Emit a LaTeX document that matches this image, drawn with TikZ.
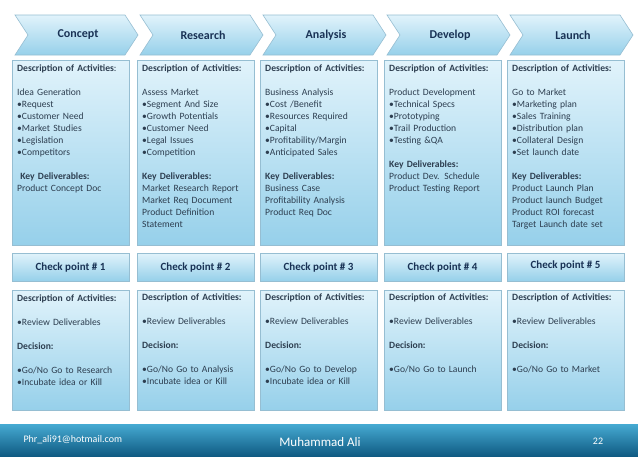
\documentclass[tikz,border=0pt]{standalone}
\usepackage{fontspec}
\setmainfont{Carlito}
\definecolor{txt}{RGB}{45,62,80}
\definecolor{hd}{RGB}{25,50,85}
\definecolor{ltop}{RGB}{225,243,251}
\definecolor{lbot}{RGB}{150,208,234}
\definecolor{edge}{RGB}{150,190,210}
\definecolor{ftop}{RGB}{70,170,210}
\definecolor{fbot}{RGB}{15,90,130}
\begin{document}
\begin{tikzpicture}[x=1pt,y=-1pt,
  panel/.style={draw=edge,line width=0.6pt,top color=ltop,bottom color=lbot},
  chev/.style={draw=edge,line width=0.6pt,top color=ltop,bottom color=lbot},
  body/.style={anchor=north west,align=left,text width=114pt,inner sep=0pt,font=\fontsize{9.6}{12}\selectfont,text=txt},
  ttl/.style={font=\fontsize{12}{14}\selectfont\bfseries,text=hd},
  cpt/.style={font=\fontsize{11}{13}\selectfont\bfseries,text=hd}]
\useasboundingbox (0,0) rectangle (638,456);
\fill[white] (0,0) rectangle (638,456);
\def\xs{{12,137,260,384,507}}
\foreach \i/\t in {0/Concept,1/Research,2/Analysis,3/Develop,4/Launch}{
  \pgfmathsetmacro{\x}{\xs[\i]}
  \draw[chev] (\x+3,15) -- (\x+113,15) -- (\x+126,35) -- (\x+113,55) -- (\x+3,55) -- (\x+16,35) -- cycle;
  \node[ttl] (c\i) at (\x+66,35) {\t};
  \draw[panel] (\x,60) rectangle (\x+117,245);
  \draw[panel] (\x,253) rectangle (\x+117,281);
  \draw[panel] (\x,290) rectangle (\x+117,410);
}
\node[cpt] (k0) at (70.5,267) {Check point \# 1};
\node[cpt] (k1) at (195.5,267) {Check point \# 2};
\node[cpt] (k2) at (318.5,267) {Check point \# 3};
\node[cpt] (k3) at (442.5,267) {Check point \# 4};
\node[cpt] (k4) at (565.5,265) {Check point \# 5};
\node[body] (t0) at (17,65) {\textbf{Description of Activities}:\\[12pt]Idea Generation\\•Request\\•Customer Need\\•Market Studies\\•Legislation\\•Competitors\\[12pt]\ \textbf{Key Deliverables:}\\Product Concept Doc};
\node[body] (t1) at (142,65) {\textbf{Description of Activities:}\\[12pt]Assess Market\\•Segment And Size\\•Growth Potentials\\•Customer Need\\•Legal Issues\\•Competition\\[12pt]\textbf{Key Deliverables:}\\Market Research Report\\Market Req Document\\Product Definition\\Statement};
\node[body] (t2) at (265,65) {\textbf{Description of Activities:}\\[12pt]Business Analysis\\•Cost /Benefit\\•Resources Required\\•Capital\\•Profitability/Margin\\•Anticipated Sales\\[12pt]\textbf{Key Deliverables:}\\Business Case\\Profitability Analysis\\Product Req Doc};
\node[body] (t3) at (389,65) {\textbf{Description of Activities:}\\[12pt]Product Development\\•Technical Specs\\•Prototyping\\•Trail Production\\•Testing \&QA\\[12pt]\textbf{Key Deliverables:}\\Product Dev. Schedule\\Product Testing Report};
\node[body] (t4) at (512,65) {\textbf{Description of Activities:}\\[12pt]Go to Market\\•Marketing plan\\•Sales Training\\•Distribution plan\\•Collateral Design\\•Set launch date\\[12pt]\textbf{Key Deliverables:}\\Product Launch Plan\\Product launch Budget\\Product ROI forecast\\Target Launch date set};
\node[body] (b0) at (17,295) {\textbf{Description of Activities:}\\[12pt]•Review Deliverables\\[12pt]\textbf{Decision:}\\[12pt]•Go/No Go to Research\\•Incubate idea or Kill};
\node[body] (b1) at (142,294) {\textbf{Description of Activities:}\\[12pt]•Review Deliverables\\[12pt]\textbf{Decision:}\\[12pt]•Go/No Go to Analysis\\•Incubate idea or Kill};
\node[body] (b2) at (265,294) {\textbf{Description of Activities:}\\[12pt]•Review Deliverables\\[12pt]\textbf{Decision:}\\[12pt]•Go/No Go to Develop\\•Incubate idea or Kill};
\node[body] (b3) at (389,294) {\textbf{Description of Activities:}\\[12pt]•Review Deliverables\\[12pt]\textbf{Decision:}\\[12pt]•Go/No Go to Launch};
\node[body] (b4) at (512,294) {\textbf{Description of Activities:}\\[12pt]•Review Deliverables\\[12pt]\textbf{Decision:}\\[12pt]•Go/No Go to Market};
\shade[top color=ftop,bottom color=fbot] (0,424) rectangle (638,456);
\node[text=white,anchor=west,font=\fontsize{10}{12}\selectfont] (em) at (20,440) {Phr\_ali91@hotmail.com};
\node[text=white,font=\fontsize{13}{15}\selectfont] (au) at (320,442) {Muhammad Ali};
\node[text=white,font=\fontsize{10}{12}\selectfont] (pg) at (598,441) {22};
\end{tikzpicture}
\end{document}
